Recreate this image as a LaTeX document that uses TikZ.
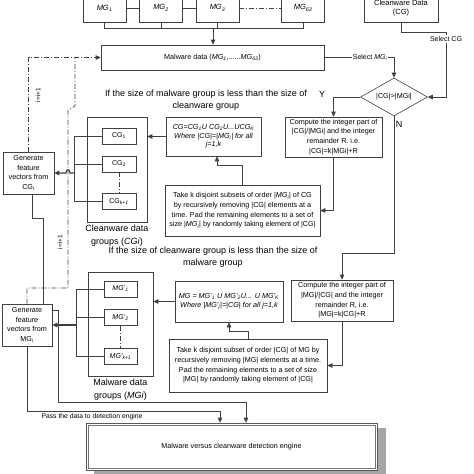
\documentclass[tikz,border=0pt]{standalone}
\usepackage{fontspec}
\setmainfont{Liberation Sans}
\usepackage{tikz}
\usetikzlibrary{arrows.meta,shapes.geometric,shadows,backgrounds}

\begin{document}
\begin{tikzpicture}[x=1pt,y=-1pt,
    box/.style={draw=black!75, line width=0.6pt, fill=white, inner sep=1pt, align=center, font=\fontsize{7.2}{9.7}\selectfont},
    topbox/.style={box, minimum width=43, minimum height=28, font=\fontsize{7.5}{9.5}\selectfont},
    cell/.style={box, minimum width=34, minimum height=16, inner sep=0pt, font=\fontsize{7}{8}\selectfont},
    group/.style={draw=black!75, line width=0.6pt},
    big/.style={align=center, font=\fontsize{9}{12}\selectfont},
    link/.style={draw=black!75, line width=0.6pt},
    arr/.style={link, -{Triangle[length=5pt,width=4.5pt]}},
    loop/.style={link, dash pattern=on 5pt off 2pt on 1pt off 2pt},
    lbl/.style={fill=white, inner sep=1pt, font=\fontsize{7}{8}\selectfont}]
    \useasboundingbox (0,0) rectangle (474,474);

    % Malware and cleanware sources
    \node[topbox] (mg1) at (104.5,8) {\textit{MG\textsubscript{1}}};
    \node[topbox] (mg2) at (161,8) {\textit{MG\textsubscript{2}}};
    \node[topbox] (mg3) at (217.5,8) {\textit{MG\textsubscript{3}}};
    \node[topbox] (mg63) at (303,8) {\textit{MG\textsubscript{63}}};
    \node[topbox, minimum width=74] (cgdata) at (401,8) {Cleanware Data\\(CG)};
    \node[box, minimum width=223, minimum height=25] (mdata) at (212.5,57.5)
        {Malware data (\textit{MG\textsubscript{1}},......\textit{MG\textsubscript{63}})};
    \node[draw=black!75, line width=0.6pt, fill=white, diamond, aspect=1.8, inner sep=0pt,
        minimum width=67, minimum height=38, font=\fontsize{7.2}{9}\selectfont] (dia) at (394,97) {|CG|>|MGi|};
    \node[font=\fontsize{9}{10}\selectfont] at (322,94) {Y};
    \node[font=\fontsize{9}{10}\selectfont] at (399,124) {N};

    % Case 1: cleanware group is larger
    \node[big] at (206,100) {If the size of malware group is less than the size of\\cleanware group};
    \node[box, minimum width=97, minimum height=40] (comp1) at (333.5,137)
        {Compute the integer part of\\|CG|/|MGi| and the integer\\remainder R. i.e.\\|CG|=k|MGi|+R};
    \node[box, minimum width=155, minimum height=51] (take1) at (242.5,210.5)
        {Take k disjoint subsets of order |\textit{MG\textsubscript{i}}| of CG\\by recursively removing |CG| elements at a\\time. Pad the remaining elements to a set of\\size |\textit{MG\textsubscript{i}}| by randomly taking element of |CG|};
    \node[box, minimum width=95, minimum height=39, font=\fontsize{7.2}{8.6}\selectfont\itshape] (form1) at (213.5,136.5)
        {CG=CG\textsubscript{1}U CG\textsubscript{2}U...UCG\textsubscript{K}\\Where |CG|=|MG\textsubscript{i}| for all\\j=1,k};
    \node[group, minimum width=60, minimum height=105] (cgc) at (117,169.5) {};
    \node[cell] (cg1) at (119,136) {CG\textsubscript{1}};
    \node[cell] (cg2) at (119,164) {CG\textsubscript{2}};
    \node[cell] (cgk) at (119,201.5) {CG\textsubscript{\textit{k+1}}};
    \node[big, font=\fontsize{9}{12.5}\selectfont] at (117,235.5) {Cleanware data\\groups (\textit{CGi})};
    \node[box, minimum width=51, minimum height=42] (gencg) at (28.5,173) {Generate\\feature\\vectors from\\CG\textsubscript{i}};

    % Case 2: malware group is larger
    \node[big] at (213,257.5) {If the size of cleanware group is less than the size of\\malware group};
    \node[box, minimum width=102, minimum height=41] (comp2) at (342,300.5)
        {Compute the integer part of\\|MG|/|CG| and the integer\\remainder R, i.e.\\|MG|=k|CG|+R};
    \node[box, minimum width=158, minimum height=53] (take2) at (248,365.5)
        {Take k disjoint subset of order |CG| of MG by\\recursively removing |MG| elements at a time.\\Pad the remaining elements to a set of size\\|MG| by randomly taking element of |CG|};
    \node[box, minimum width=108, minimum height=41, font=\fontsize{7.2}{8.6}\selectfont\itshape] (form2) at (229,301.5)
        {MG = MG'\textsubscript{1} U MG'\textsubscript{2}U... U MG'\textsubscript{K}\\Where |MG'\textsubscript{j}|=|CG| for all j=1,k};
    \node[group, minimum width=65, minimum height=104] (mgc) at (120.5,324) {};
    \node[cell, minimum width=33, font=\fontsize{7}{8}\selectfont\itshape] (mgp1) at (120.5,289) {MG'\textsubscript{1}};
    \node[cell, minimum width=33, font=\fontsize{7}{8}\selectfont\itshape] (mgp2) at (120.5,317.5) {MG'\textsubscript{2}};
    \node[cell, minimum width=33, font=\fontsize{7}{8}\selectfont\itshape] (mgpk) at (120.5,356.5) {MG'\textsubscript{k+1}};
    \node[big, font=\fontsize{9}{12.5}\selectfont] at (120.5,389.5) {Malware data\\groups (\textit{MGi})};
    \node[box, minimum width=50, minimum height=42] (genmg) at (27,325) {Generate\\feature\\vectors from\\MG\textsubscript{i}};

    % Detection engine
    \fill[black!35] (94,428) rectangle (386,476);
    \node[box, minimum width=291, minimum height=47, draw=black!65] (eng) at (231.5,446.5)
        {Malware versus cleanware detection engine};
    \draw[black!55, line width=0.4pt] ([shift={(2,2)}]eng.north west) rectangle ([shift={(-2,-2)}]eng.south east);

    \begin{scope}[on background layer]
    % top row
    \draw[link] (mg1) -- (mg2);
    \draw[link] (mg2) -- (mg3);
    \draw[loop] (mg3) -- (mg63);
    \draw[link] (mg1.south) -- ++(0,6) -| (mg63.south);
    \draw[link] (mg2.south) -- ++(0,6);
    \draw[link] (mg3.south) -- ++(0,6);
    \coordinate (bus) at (213,28);
    \draw[arr] (bus) -- (bus |- mdata.north);
    \draw[arr] (cgdata.south) |- (446,32) |- (dia.east);
    \node[lbl] at (446,39) {Select CG};
    \draw[arr] (mdata.east) -| (dia.north);
    \node[lbl] at (370,57.5) {Select \textit{MG\textsubscript{i}}};

    % decision branches
    \draw[arr] (dia.west) -| (comp1.north);
    \draw[arr] (dia.south) -- ++(0,137) -| (comp2.north);
    \draw[arr] (comp1.south) |- (take1.east);
    \draw[arr] (comp2.south) |- (take2.east);
    \draw[arr] (take1.north) -- ++(0,-19) -| ([xshift=3.5pt]form1.south);
    \draw[arr] (take2.north) -- ++(0,-7) -| (form2.south);
    \draw[arr] (form1.west) -- (form1.west -| cgc.east);
    \draw[arr] (form2.west) -- (form2.west -| mgc.east);

    % group brackets
    \draw[link] (cg1.west) -- ++(-27,0) |- (cgk.west);
    \draw[link] (cg2.west) -- ++(-27,0);
    \draw[loop] (cg2.south) -- (cgk.north);
    \coordinate (cgbr) at (75,173);
    \draw[arr, line width=1.1pt] (cgbr) -- (70,173) .. controls (70,168.5) and (66,168.5) .. (66,173) -- (gencg.east);
    \draw[link] (mgp1.west) -- ++(-27,0) |- (mgpk.west);
    \draw[link] (mgp2.west) -- ++(-27,0);
    \draw[loop] (mgp2.south) -- (mgpk.north);
    \coordinate (mgbr) at (77,325);
    \draw[arr, line width=1.1pt] (mgbr) -- (genmg.east);

    % to the engine
    \coordinate (e1) at (220,411);
    \coordinate (e2) at (246,402);
    \draw[arr] (genmg.south) |- (e1) -- (e1 |- eng.north);
    \draw[arr] ([xshift=3.5pt]gencg.south) |- (43,218) |- (58,310) |- (e2) -- (e2 |- eng.north);
    \node[anchor=west, font=\fontsize{6.8}{8}\selectfont] at (38,417) {Pass the data to detection engine};

    % i=i+1 loops
    \draw[loop, -{Triangle[length=5pt,width=4.5pt]}] (gencg.north) |- (mdata.west);
    \draw[loop] (genmg.north) |- (68,288) -- (68,110) -- (75,106) -- (75,57.5);
    \node[rotate=90, font=\fontsize{6.5}{8}\selectfont] at (38,95) {i=i+1};
    \node[rotate=90, font=\fontsize{6.5}{8}\selectfont] at (60,242) {i=i+1};
    \end{scope}

\end{tikzpicture}
\end{document}
